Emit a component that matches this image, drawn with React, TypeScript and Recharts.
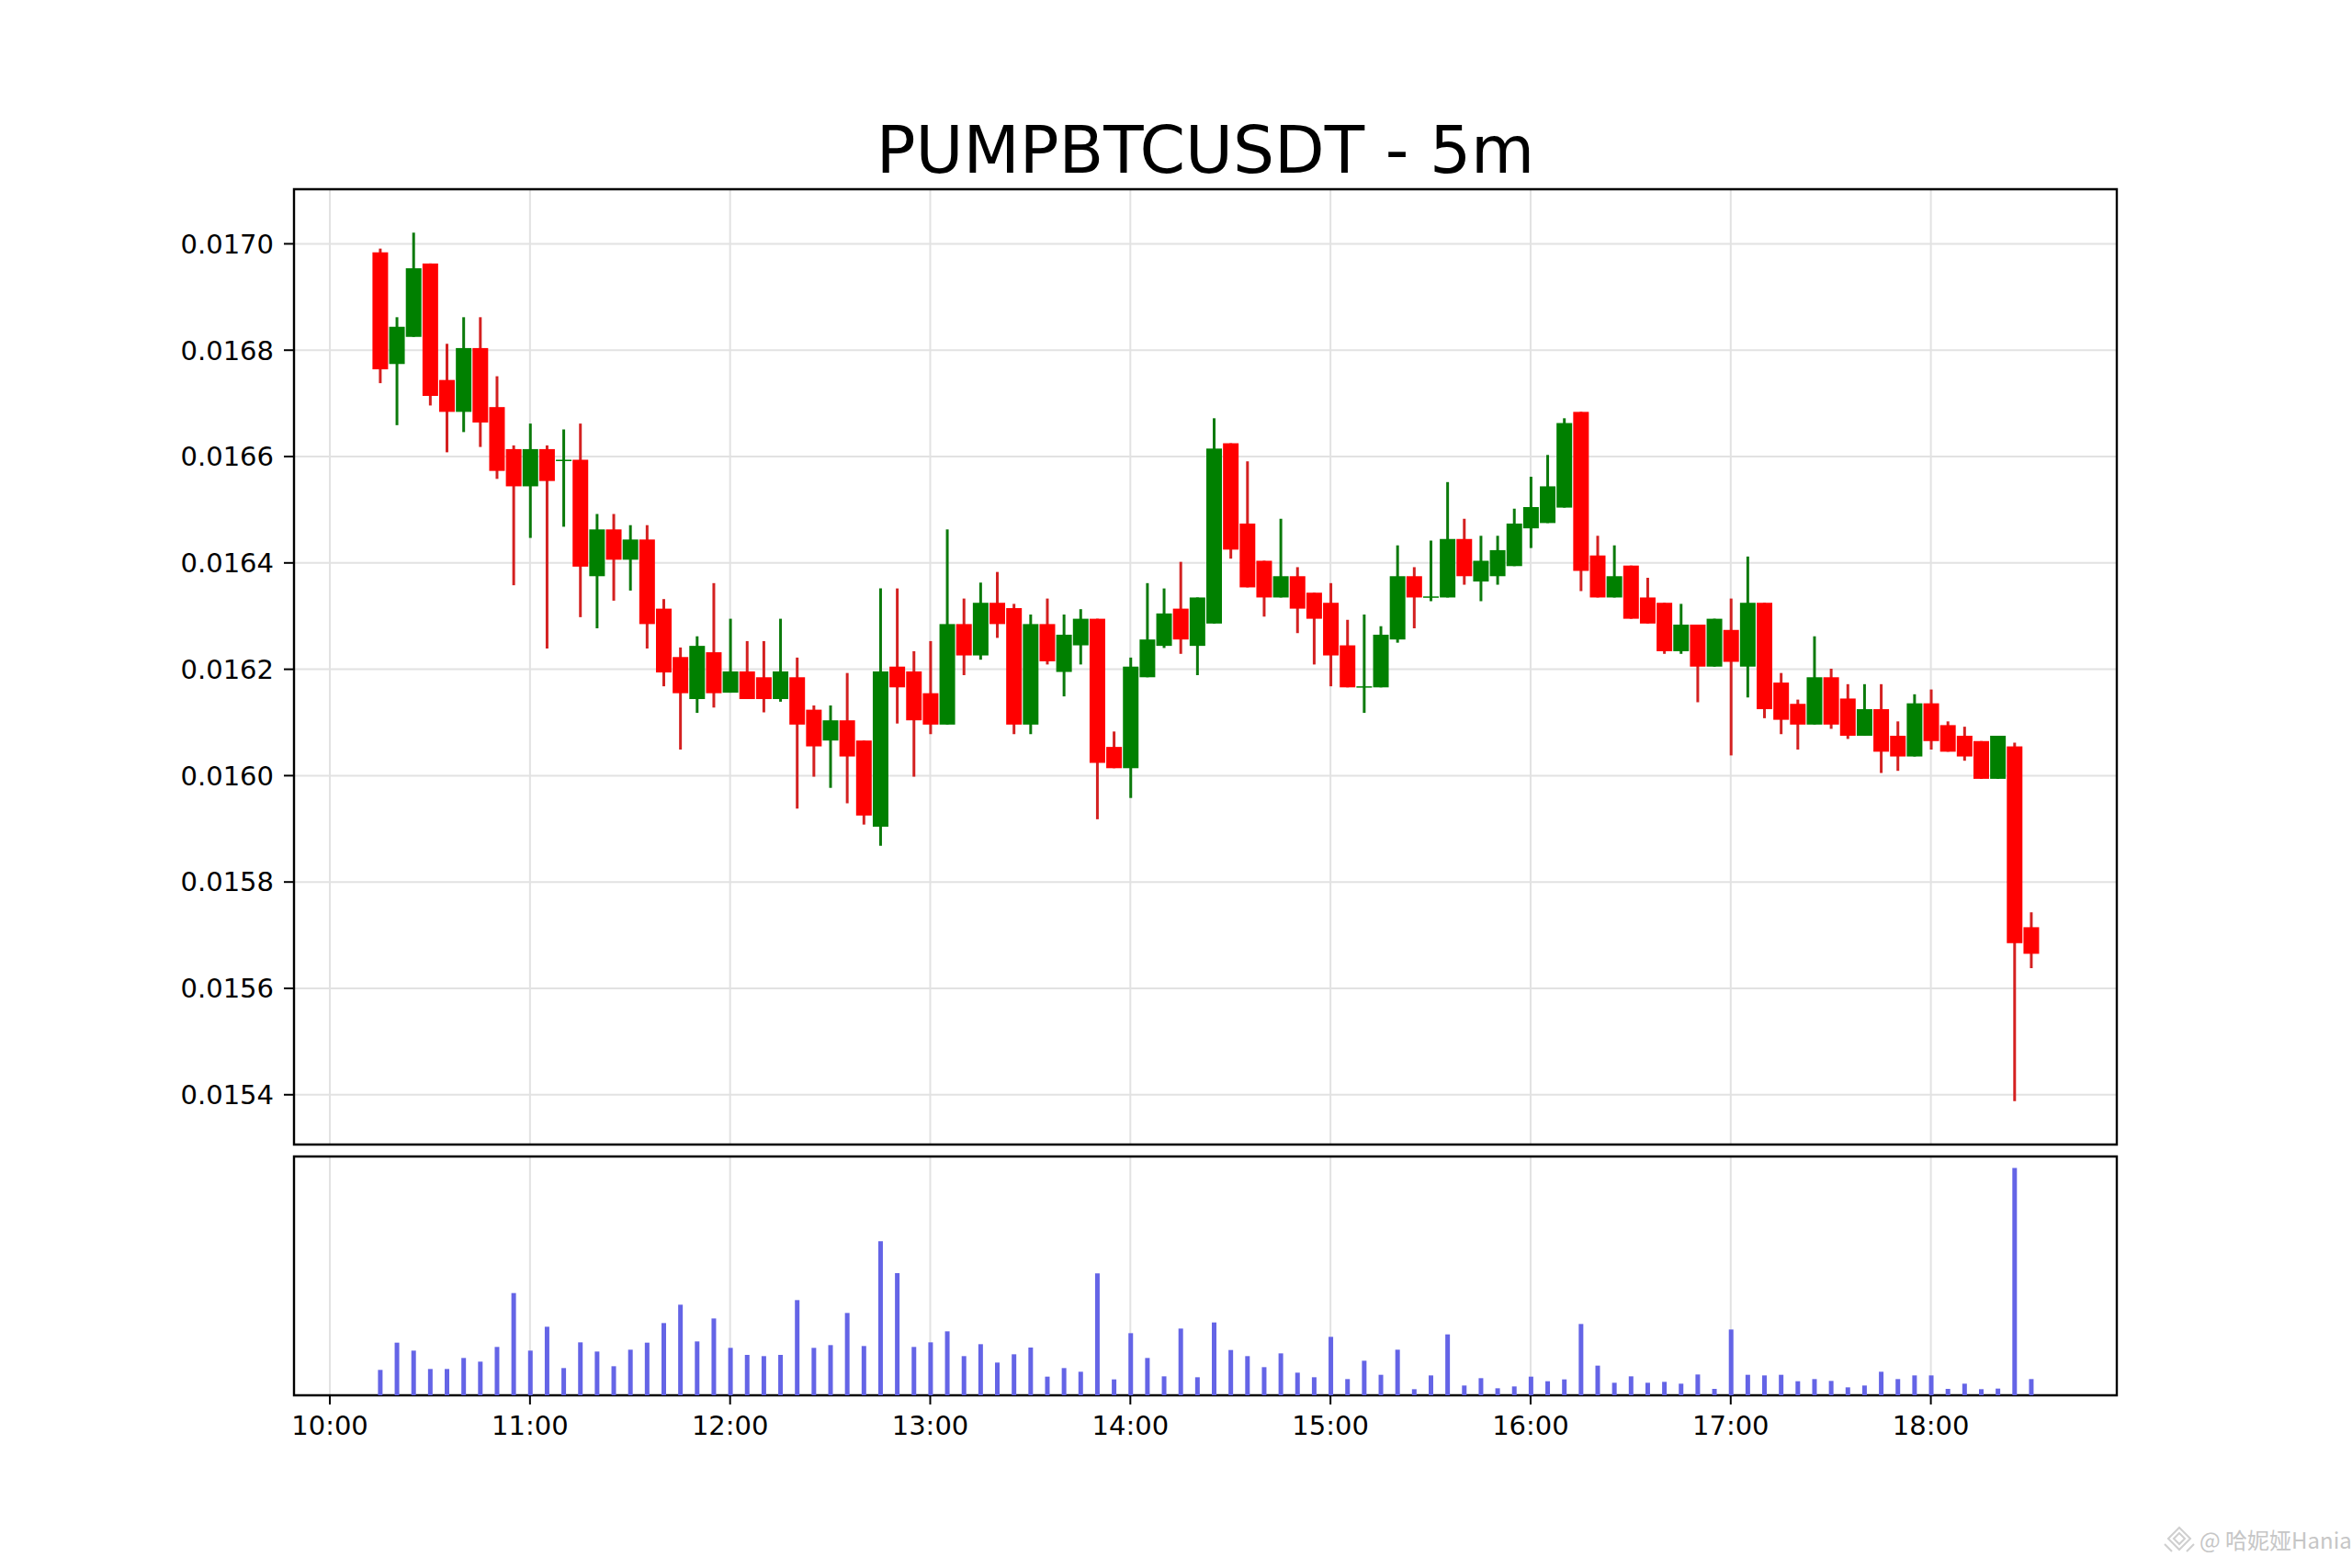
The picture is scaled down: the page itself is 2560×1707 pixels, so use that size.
import { ComposedChart, Bar, XAxis, YAxis, CartesianGrid, ReferenceArea } from 'recharts';

// 5m candles, 10:15 .. 18:30
const times = [
  '10:15', '10:20', '10:25', '10:30', '10:35', '10:40', '10:45', '10:50', '10:55',
  '11:00', '11:05', '11:10', '11:15', '11:20', '11:25', '11:30', '11:35', '11:40', '11:45', '11:50', '11:55',
  '12:00', '12:05', '12:10', '12:15', '12:20', '12:25', '12:30', '12:35', '12:40', '12:45', '12:50', '12:55',
  '13:00', '13:05', '13:10', '13:15', '13:20', '13:25', '13:30', '13:35', '13:40', '13:45', '13:50', '13:55',
  '14:00', '14:05', '14:10', '14:15', '14:20', '14:25', '14:30', '14:35', '14:40', '14:45', '14:50', '14:55',
  '15:00', '15:05', '15:10', '15:15', '15:20', '15:25', '15:30', '15:35', '15:40', '15:45', '15:50', '15:55',
  '16:00', '16:05', '16:10', '16:15', '16:20', '16:25', '16:30', '16:35', '16:40', '16:45', '16:50', '16:55',
  '17:00', '17:05', '17:10', '17:15', '17:20', '17:25', '17:30', '17:35', '17:40', '17:45', '17:50', '17:55',
  '18:00', '18:05', '18:10', '18:15', '18:20', '18:25', '18:30',
];

const opens = [
  0.016984, 0.016774, 0.016825, 0.016963, 0.016744, 0.016684, 0.016804, 0.016693, 0.016614,
  0.016544, 0.016614, 0.016592, 0.016594, 0.016375, 0.016463, 0.016406, 0.016444, 0.016314, 0.016223, 0.016144, 0.016232,
  0.016156, 0.016196, 0.016185, 0.016144, 0.016185, 0.016124, 0.016066, 0.016104, 0.016066, 0.015904, 0.016205, 0.016196,
  0.016155, 0.016096, 0.016285, 0.016226, 0.016325, 0.016315, 0.016096, 0.016285, 0.016195, 0.016245, 0.016295, 0.016054,
  0.016014, 0.016185, 0.016244, 0.016314, 0.016244, 0.016286, 0.016625, 0.016474, 0.016404, 0.016335, 0.016375, 0.016344,
  0.016325, 0.016245, 0.016166, 0.016166, 0.016256, 0.016375, 0.016335, 0.016335, 0.016445, 0.016365, 0.016375, 0.016394,
  0.016465, 0.016475, 0.016504, 0.016684, 0.016414, 0.016335, 0.016395, 0.016335, 0.016325, 0.016234, 0.016284, 0.016205,
  0.016274, 0.016205, 0.016325, 0.016175, 0.016135, 0.016096, 0.016185, 0.016145, 0.016075, 0.016125, 0.016075, 0.016036,
  0.016136, 0.016095, 0.016075, 0.016065, 0.015994, 0.016055, 0.015715,
];

const highs = [
  0.016991, 0.016862, 0.017021, 0.016963, 0.016812, 0.016862, 0.016862, 0.016751, 0.016621,
  0.016662, 0.016621, 0.016651, 0.016662, 0.016492, 0.016492, 0.016471, 0.016471, 0.016332, 0.016241, 0.016262, 0.016362,
  0.016295, 0.016253, 0.016253, 0.016295, 0.016222, 0.016132, 0.016132, 0.016193, 0.016066, 0.016352, 0.016352, 0.016234,
  0.016253, 0.016463, 0.016333, 0.016363, 0.016383, 0.016323, 0.016303, 0.016333, 0.016303, 0.016313, 0.016295, 0.016083,
  0.016222, 0.016362, 0.016352, 0.016402, 0.016335, 0.016672, 0.016625, 0.016591, 0.016404, 0.016483, 0.016392, 0.016344,
  0.016362, 0.016293, 0.016303, 0.016281, 0.016433, 0.016392, 0.016442, 0.016552, 0.016483, 0.016451, 0.016451, 0.016502,
  0.016562, 0.016603, 0.016672, 0.016684, 0.016451, 0.016433, 0.016395, 0.016372, 0.016325, 0.016323, 0.016284, 0.016295,
  0.016333, 0.016412, 0.016325, 0.016193, 0.016143, 0.016262, 0.016201, 0.016172, 0.016172, 0.016172, 0.016102, 0.016153,
  0.016162, 0.016102, 0.016092, 0.016065, 0.016075, 0.016062, 0.015743,
];

const lows = [
  0.016738, 0.016659, 0.016825, 0.016696, 0.016608, 0.016646, 0.016618, 0.016558, 0.016358,
  0.016447, 0.016239, 0.016468, 0.016298, 0.016277, 0.016329, 0.016348, 0.016239, 0.016168, 0.016049, 0.016118, 0.016128,
  0.016156, 0.016144, 0.016119, 0.016139, 0.015938, 0.015998, 0.015977, 0.015948, 0.015908, 0.015868, 0.016098, 0.015998,
  0.016078, 0.016096, 0.016189, 0.016218, 0.016259, 0.016078, 0.016078, 0.016209, 0.016149, 0.016209, 0.015918, 0.016014,
  0.015958, 0.016185, 0.016240, 0.016229, 0.016189, 0.016286, 0.016408, 0.016354, 0.016299, 0.016335, 0.016268, 0.016209,
  0.016168, 0.016166, 0.016118, 0.016166, 0.016250, 0.016277, 0.016328, 0.016335, 0.016359, 0.016328, 0.016359, 0.016394,
  0.016428, 0.016475, 0.016504, 0.016347, 0.016335, 0.016335, 0.016295, 0.016286, 0.016229, 0.016229, 0.016138, 0.016205,
  0.016038, 0.016147, 0.016108, 0.016078, 0.016049, 0.016096, 0.016088, 0.016069, 0.016075, 0.016005, 0.016009, 0.016036,
  0.016049, 0.016045, 0.016028, 0.015994, 0.015994, 0.015388, 0.015638,
];

const closes = [
  0.016764, 0.016844, 0.016954, 0.016714, 0.016684, 0.016804, 0.016664, 0.016573, 0.016544,
  0.016614, 0.016554, 0.016594, 0.016393, 0.016463, 0.016406, 0.016444, 0.016285, 0.016194, 0.016155, 0.016244, 0.016155,
  0.016196, 0.016144, 0.016144, 0.016196, 0.016096, 0.016055, 0.016104, 0.016036, 0.015925, 0.016196, 0.016166, 0.016104,
  0.016096, 0.016285, 0.016226, 0.016325, 0.016285, 0.016096, 0.016285, 0.016215, 0.016265, 0.016295, 0.016024, 0.016014,
  0.016205, 0.016256, 0.016305, 0.016256, 0.016335, 0.016615, 0.016425, 0.016354, 0.016335, 0.016375, 0.016314, 0.016295,
  0.016226, 0.016166, 0.016168, 0.016265, 0.016375, 0.016335, 0.016337, 0.016445, 0.016375, 0.016404, 0.016424, 0.016474,
  0.016505, 0.016544, 0.016663, 0.016385, 0.016335, 0.016375, 0.016295, 0.016286, 0.016234, 0.016284, 0.016205, 0.016295,
  0.016214, 0.016325, 0.016125, 0.016105, 0.016096, 0.016185, 0.016096, 0.016075, 0.016125, 0.016045, 0.016036, 0.016136,
  0.016065, 0.016045, 0.016036, 0.015994, 0.016075, 0.015685, 0.015665,
];

// volume panel has no scale labels, values are relative
const volumes = [
  83, 172, 146, 86, 86, 122, 110, 158, 334,
  146, 224, 89, 173, 143, 95, 149, 172, 236, 296, 176, 251,
  155, 132, 128, 132, 311, 155, 164, 269, 161, 503, 399, 158,
  173, 209, 128, 167, 107, 134, 156, 61, 89, 77, 398, 52,
  203, 122, 62, 218, 59, 238, 148, 128, 92, 137, 74, 59,
  191, 53, 113, 67, 149, 20, 65, 199, 32, 56, 23, 29,
  61, 46, 52, 233, 97, 41, 62, 41, 44, 38, 68, 21,
  215, 67, 65, 67, 46, 53, 47, 26, 32, 77, 53, 65,
  65, 21, 38, 20, 22, 743, 53,
];

const hourLabels = ['10:00', '11:00', '12:00', '13:00', '14:00', '15:00', '16:00', '17:00', '18:00'];
const priceTicks = [0.0154, 0.0156, 0.0158, 0.016, 0.0162, 0.0164, 0.0166, 0.0168, 0.017];

const UP = '#008000';
const DOWN = '#ff0000';
const WICK_UP = '#0b7a0b';
const WICK_DOWN = '#d42020';
const VOL = '#6464e6';
const GRID = '#e2e2e2';
const FONT = '"DejaVu Sans", sans-serif';

// minutes after 10:00
const toMin = (s: string) => {
  const [h, m] = s.split(':').map(Number);
  return (h - 10) * 60 + m;
};

const hourTicks = hourLabels.map(toMin);

const rows = times.map((t, i) => ({
  t: toMin(t),
  open: opens[i],
  high: highs[i],
  low: lows[i],
  close: closes[i],
  range: [lows[i], highs[i]],
  vol: volumes[i],
}));

// matplotlib-like 5% margins
const tFirst = rows[0].t;
const tLast = rows[rows.length - 1].t;
const xPad = (tLast - tFirst) * 0.05 + 1;
const X_DOMAIN: [number, number] = [tFirst - xPad, tLast + xPad];

const pLo = Math.min(...lows);
const pHi = Math.max(...highs);
const pPad = (pHi - pLo) * 0.05;
const Y_DOMAIN: [number, number] = [pLo - pPad, pHi + pPad];

const volTop = Math.max(...volumes) * 1.05;

const tickStyle = { fontFamily: FONT, fontSize: 29, fill: '#000' };

function Candle(props: any) {
  const { x, y, width, height, payload } = props;
  if (x == null || y == null) return null;
  const top = Math.min(y, y + height);
  const h = Math.abs(height);
  const { open, close, high, low } = payload;
  const span = high - low || 1e-9;
  const py = (p: number) => top + ((high - p) / span) * h;
  const up = close >= open;
  const cx = x + width / 2;
  const bTop = py(Math.max(open, close));
  const bBot = py(Math.min(open, close));
  return (
    <g>
      <line x1={cx} x2={cx} y1={top} y2={top + h} stroke={up ? WICK_UP : WICK_DOWN} strokeWidth={3} />
      <rect x={x} y={bTop} width={width} height={Math.max(bBot - bTop, 1.5)} fill={up ? UP : DOWN} />
    </g>
  );
}

function Watermark() {
  return (
    <svg width={240} height={50} style={{ position: 'absolute', left: 2350, top: 1657 }}>
      <g fill="none" stroke="#cfcfcf" strokeWidth={2}>
        <path d="M22 6 L34 18 L22 30 L10 18 Z" />
        <path d="M22 12 L28 18 L22 24 L16 18 Z" />
        <path d="M6 24 L14 32 M38 24 L30 32" />
      </g>
      <text x={44} y={29} fontFamily='"Noto Sans CJK SC", "Noto Sans", sans-serif' fontSize={24} fill="#c6c6c6">
        @ 哈妮娅Hania
      </text>
    </svg>
  );
}

export default function App() {
  return (
    <div style={{ position: 'absolute', left: 0, top: 0, width: 2560, height: 1707, background: '#fff', overflow: 'hidden' }}>
      <svg width={2560} height={230} style={{ position: 'absolute', left: 0, top: 0 }}>
        <text x={1312} y={188} textAnchor="middle" fontFamily={FONT} fontSize={71} fill="#000">
          PUMPBTCUSDT - 5m
        </text>
      </svg>

      <div style={{ position: 'absolute', left: 0, top: 0 }}>
        <ComposedChart width={2560} height={1260} data={rows} margin={{ top: 206, right: 256, bottom: 14, left: 200 }}>
          <XAxis
            xAxisId="x"
            dataKey="t"
            type="number"
            domain={X_DOMAIN}
            ticks={hourTicks}
            allowDataOverflow
            hide
          />
          <YAxis
            yAxisId="p"
            type="number"
            domain={Y_DOMAIN}
            ticks={priceTicks}
            allowDataOverflow
            width={120}
            tick={tickStyle}
            tickFormatter={(v: number) => v.toFixed(4)}
            tickSize={11}
            tickMargin={11}
            tickLine={{ stroke: '#000', strokeWidth: 2 }}
            axisLine={false}
          />
          <CartesianGrid xAxisId="x" yAxisId="p" stroke={GRID} strokeWidth={2} />
          <Bar
            xAxisId="x"
            yAxisId="p"
            dataKey="range"
            barSize={17}
            shape={<Candle />}
            isAnimationActive={false}
          />
          <ReferenceArea
            xAxisId="x"
            yAxisId="p"
            x1={X_DOMAIN[0]}
            x2={X_DOMAIN[1]}
            y1={Y_DOMAIN[0]}
            y2={Y_DOMAIN[1]}
            fill="none"
            stroke="#000"
            strokeWidth={2.4}
          />
        </ComposedChart>
      </div>

      <div style={{ position: 'absolute', left: 0, top: 1200 }}>
        <ComposedChart width={2560} height={400} data={rows} margin={{ top: 59, right: 256, bottom: 1, left: 320 }}>
          <XAxis
            xAxisId="x"
            dataKey="t"
            type="number"
            domain={X_DOMAIN}
            ticks={hourTicks}
            allowDataOverflow
            height={80}
            tick={tickStyle}
            tickFormatter={(v: number) => hourLabels[hourTicks.indexOf(v)] ?? ''}
            tickSize={10}
            tickMargin={12}
            tickLine={{ stroke: '#000', strokeWidth: 2 }}
            axisLine={false}
          />
          <YAxis yAxisId="v" type="number" domain={[0, volTop]} allowDataOverflow hide />
          <CartesianGrid xAxisId="x" yAxisId="v" horizontal={false} stroke={GRID} strokeWidth={2} />
          <Bar xAxisId="x" yAxisId="v" dataKey="vol" barSize={5} fill={VOL} isAnimationActive={false} />
          <ReferenceArea
            xAxisId="x"
            yAxisId="v"
            x1={X_DOMAIN[0]}
            x2={X_DOMAIN[1]}
            y1={0}
            y2={volTop}
            fill="none"
            stroke="#000"
            strokeWidth={2.4}
          />
        </ComposedChart>
      </div>

      <Watermark />
    </div>
  );
}
